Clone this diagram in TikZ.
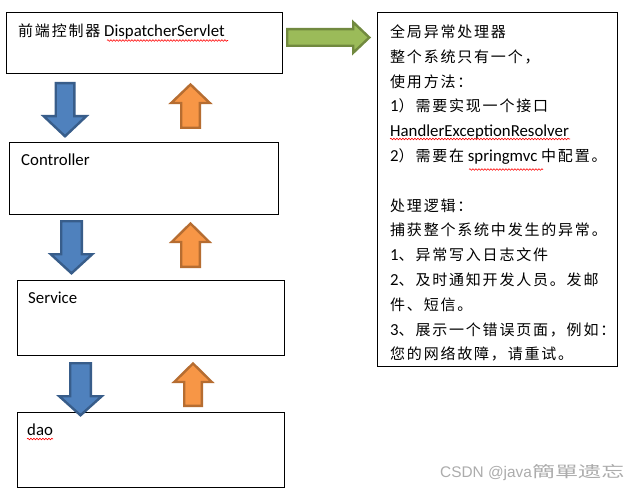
\documentclass[tikz,border=0pt]{standalone}
\usepackage{fontspec}
\usepackage{graphicx}
\setmainfont{Carlito}
\newfontfamily\cjk[LetterSpace=12]{Noto Sans CJK SC}
\newfontfamily\wmlat{Liberation Sans}
\newfontfamily\wmcjk{Noto Sans CJK SC}
\usetikzlibrary{decorations.pathmorphing}
\definecolor{bluefill}{HTML}{4F81BD}
\definecolor{blueline}{HTML}{385D8A}
\definecolor{orfill}{HTML}{F79646}
\definecolor{orline}{HTML}{B66D31}
\definecolor{grfill}{HTML}{9BBB59}
\definecolor{grline}{HTML}{71893F}
\definecolor{wmgray}{RGB}{172,172,172}
\newcommand{\zh}[1]{{\fontsize{15}{20}\selectfont\cjk #1}}
\newcommand{\blkdown}[7]{\draw[#1] ({#2-#6},#3) -- ({#2+#6},#3) -- ({#2+#6},#4) -- ({#2+#7},#4) -- (#2,#5) -- ({#2-#7},#4) -- ({#2-#6},#4) -- cycle;}
\newcommand{\blkup}[7]{\draw[#1] (#2,#3) -- ({#2+#7},#4) -- ({#2+#6},#4) -- ({#2+#6},#5) -- ({#2-#6},#5) -- ({#2-#6},#4) -- ({#2-#7},#4) -- cycle;}
\tikzset{
  boxst/.style={draw=black, line width=1pt, inner sep=0pt, anchor=north west},
  txt/.style={anchor=base west, inner sep=0pt, font=\fontsize{16.8}{20}\selectfont},
  bluearr/.style={fill=bluefill, draw=blueline, line width=2.4pt},
  orarr/.style={fill=orfill, draw=orline, line width=2.4pt},
  grarr/.style={fill=grfill, draw=grline, line width=2.4pt},
  squig/.style={draw=red, line width=0.6pt, decorate, decoration={snake, amplitude=0.8pt, segment length=3pt}}
}
\begin{document}
\begin{tikzpicture}[x=1pt, y=-1pt]
\useasboundingbox[fill=white] (0,0) rectangle (640,492);
% boxes
\node[boxst, minimum width=276pt, minimum height=61pt] (b1) at (5.5,12.5) {};
\node[boxst, minimum width=269pt, minimum height=71pt] (b2) at (8.5,142.5) {};
\node[boxst, minimum width=267pt, minimum height=75pt] (b3) at (16.5,279.5) {};
\node[boxst, minimum width=267pt, minimum height=74.5pt] (b4) at (16.5,412) {};
\node[boxst, minimum width=239.5pt, minimum height=353pt] (b5) at (377,12.5) {};
% left texts
\node[txt] (t1) at (18,37) {\zh{前端控制器} DispatcherServlet};
\node[txt] (t2) at (21,166) {Controller};
\node[txt] (t3) at (28,303) {Service};
\node[txt] (t4) at (27,435) {dao};
% right texts
\foreach \t [count=\i] in {
  {\zh{全局异常处理器}},
  {\zh{整个系统只有一个，}},
  {\zh{使用方法：}},
  {1\zh{）需要实现一个接口}},
  {HandlerExceptionResolver},
  {2\zh{）需要在} springmvc \zh{中配置。}},
  {},
  {\zh{处理逻辑：}},
  {\zh{捕获整个系统中发生的异常。}},
  {1\zh{、异常写入日志文件}},
  {2\zh{、及时通知开发人员。发邮}},
  {\zh{件、短信。}},
  {3\zh{、展示一个错误页面，例如：}},
  {\zh{您的网络故障，请重试。}}
}{
  \node[txt] (r\i) at (390,{37.5+(\i-1)*24.8}) {\t};
}
% spell-check squiggles
\draw[squig] (107,40.5) -- (228,40.5);
\draw[squig] (27,439) -- (53,439);
\draw[squig] (390,139) -- (570,139);
\draw[squig] (469,169.5) -- (543,169.5);
% blue down arrows
\blkdown{bluearr}{65}{83.2}{116.2}{136.3}{9.3}{21.3}
\blkdown{bluearr}{71.5}{221.2}{254.2}{273.3}{10.3}{20.8}
\blkdown{bluearr}{80.5}{363.2}{396.2}{415.3}{10.3}{21.3}
% orange up arrows
\blkup{orarr}{190.5}{84.5}{103}{127.8}{9.3}{19.3}
\blkup{orarr}{190.5}{223.5}{242}{266.8}{9.3}{18.8}
\blkup{orarr}{193}{363.5}{382}{405.8}{8.8}{18.8}
% green right arrow
\draw[grarr] (287.2,29.2) -- (353.2,29.2) -- (353.2,22.2) -- (369.3,37.5) -- (353.2,52.8) -- (353.2,45.8) -- (287.2,45.8) -- cycle;
% watermark
\node[anchor=base west, inner sep=0pt, text=wmgray] (wm) at (440,477.7) {\wmlat\fontsize{15.4}{18}\selectfont CSDN @java\scalebox{1.5}[1]{\wmcjk 簡單遗忘}};
\end{tikzpicture}
\end{document}
